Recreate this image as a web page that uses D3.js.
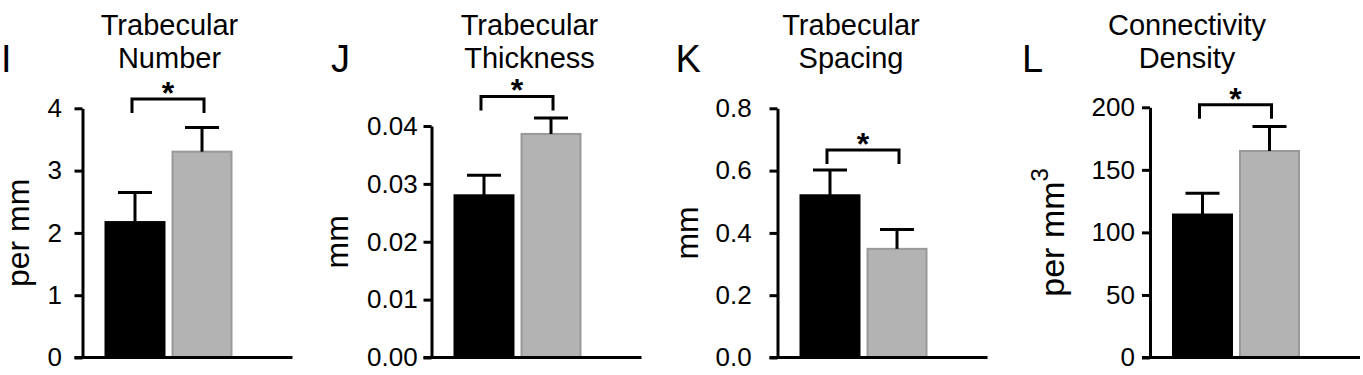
<!DOCTYPE html>
<html>
<head>
<meta charset="utf-8">
<script src="https://cdn.jsdelivr.net/npm/d3@7"></script>
<style>
  html, body { margin: 0; padding: 0; background: #fff; }
  svg { display: block; }
  text { font-family: "Liberation Sans", Arial, Helvetica, sans-serif; fill: #000; }
</style>
</head>
<body>
<svg id="chart" width="1363" height="375"></svg>
<script>
// ---------- data ----------
const panelLetters = ["I", "J", "K", "L"];
const titleLine1 = ["Trabecular", "Trabecular", "Trabecular", "Connectivity"];
const titleLine2 = ["Number", "Thickness", "Spacing", "Density"];
const yLabels = ["per mm", "mm", "mm", "per mm"];
const yLabelSup = ["", "", "", "3"];
const groups = ["Group A", "Group B"];

const tbNumber = [2.19, 3.32];
const tbNumberErr = [0.46, 0.37];
const tbThickness = [0.0282, 0.0388];
const tbThicknessErr = [0.0033, 0.0026];
const tbSpacing = [0.524, 0.352];
const tbSpacingErr = [0.078, 0.059];
const connDensity = [115.1, 165.9];
const connDensityErr = [16.1, 18.8];

const yMax = [4, 0.04, 0.8, 200];
const yTicks = [
  [0, 1, 2, 3, 4],
  [0, 0.01, 0.02, 0.03, 0.04],
  [0, 0.2, 0.4, 0.6, 0.8],
  [0, 50, 100, 150, 200]
];
const tickFormats = ["d", ".2f", ".1f", "d"];
const sigLevel = [4.15, 0.0451, 0.666, 202];
const sigLabel = ["*", "*", "*", "*"];

const means = [tbNumber, tbThickness, tbSpacing, connDensity];
const errs = [tbNumberErr, tbThicknessErr, tbSpacingErr, connDensityErr];

// ---------- layout ----------
const Y0 = 357.5;
const axisX = [82.5, 431.5, 777.5, 1150];
const yTop = [108.3, 126, 108.3, 107.3];
const titleX = [169.5, 529.5, 851, 1187];
const letterX = [1, 331, 675.5, 1022];
const yLabelX = [28.5, 348, 698, 1064];
const yLabelSize = [32, 32, 32, 34];
const tickPad = [12.5, 5.8, 17.8, 7];
const barColors = ["#000000", "#b3b3b3"];
const barStroke = ["#000000", "#999999"];

const svg = d3.select("#chart");
svg.append("rect").attr("width", 1363).attr("height", 375).attr("fill", "#fff");

panelLetters.forEach((letter, i) => {
  const g = svg.append("g");
  const y = d3.scaleLinear().domain([0, yMax[i]]).range([Y0, yTop[i]]);
  const x = d3.scaleBand().domain(groups)
    .range([axisX[i] + 22, axisX[i] + 150])
    .paddingInner(0.09).paddingOuter(0);
  const bw = x.bandwidth();

  // bars
  groups.forEach((grp, j) => {
    const v = means[i][j];
    const sw = j === 0 ? 0 : 2;
    g.append("rect")
      .attr("x", x(grp) + sw / 2)
      .attr("y", y(v) + sw / 2)
      .attr("width", bw - sw)
      .attr("height", Y0 - y(v) - sw / 2)
      .attr("fill", barColors[j])
      .attr("stroke", sw ? barStroke[j] : "none")
      .attr("stroke-width", sw);
  });

  // error bars (upper only)
  groups.forEach((grp, j) => {
    const v = means[i][j], e = errs[i][j];
    const cx = x(grp) + bw / 2;
    g.append("line")
      .attr("x1", cx).attr("x2", cx)
      .attr("y1", y(v) + 1).attr("y2", y(v + e))
      .attr("stroke", "#000").attr("stroke-width", 3);
    g.append("line")
      .attr("x1", cx - 17).attr("x2", cx + 17)
      .attr("y1", y(v + e)).attr("y2", y(v + e))
      .attr("stroke", "#000").attr("stroke-width", 3);
  });

  // y axis
  const ax = g.append("g")
    .attr("transform", `translate(${axisX[i]},0)`)
    .call(d3.axisLeft(y)
      .tickValues(yTicks[i])
      .tickFormat(d3.format(tickFormats[i]))
      .tickSize(8).tickSizeOuter(0).tickPadding(tickPad[i]));
  ax.select(".domain").attr("stroke", "#000").attr("stroke-width", 3);
  ax.selectAll(".tick line").attr("stroke", "#000").attr("stroke-width", 3);
  ax.selectAll(".tick text").attr("font-size", 26).attr("fill", "#000")
    .attr("font-family", '"Liberation Sans", Arial, sans-serif');

  // x axis baseline
  g.append("line")
    .attr("x1", axisX[i] - 8).attr("x2", axisX[i] + 210)
    .attr("y1", y(0)).attr("y2", y(0))
    .attr("stroke", "#000").attr("stroke-width", 3);

  // significance bracket
  const c0 = x(groups[0]) + bw / 2 - 3;
  const c1 = x(groups[1]) + bw / 2 + 2;
  const by = y(sigLevel[i]);
  g.append("path")
    .attr("d", `M${c0},${by + 14}V${by}H${c1}V${by + 14}`)
    .attr("fill", "none").attr("stroke", "#000").attr("stroke-width", 3);
  g.append("text")
    .attr("x", (c0 + c1) / 2).attr("y", by - 12 + 17)
    .attr("text-anchor", "middle")
    .attr("font-size", 32).attr("font-weight", "bold")
    .text(sigLabel[i]);

  // title
  g.append("text").attr("x", titleX[i]).attr("y", 35)
    .attr("text-anchor", "middle").attr("font-size", 29).text(titleLine1[i]);
  g.append("text").attr("x", titleX[i]).attr("y", 68)
    .attr("text-anchor", "middle").attr("font-size", 29).text(titleLine2[i]);

  // panel letter
  g.append("text").attr("x", letterX[i]).attr("y", 71.5)
    .attr("font-size", 38).text(letter);

  // y label
  const midY = (y(0) + y(yMax[i])) / 2;
  const yl = g.append("text")
    .attr("transform", `translate(${yLabelX[i]},${midY}) rotate(-90)`)
    .attr("text-anchor", "middle")
    .attr("font-size", yLabelSize[i]);
  yl.append("tspan").text(yLabels[i]);
  if (yLabelSup[i]) {
    yl.append("tspan").attr("dy", -16).attr("font-size", 24).text(yLabelSup[i]);
  }
});
</script>
</body>
</html>
